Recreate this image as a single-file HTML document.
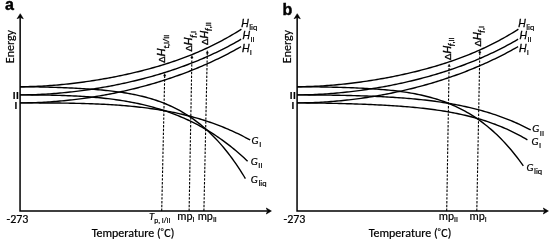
<!DOCTYPE html>
<html><head><meta charset="utf-8"><title>Energy–temperature diagrams</title>
<style>html,body{margin:0;padding:0;background:#fff;}svg{display:block;}</style></head>
<body>
<svg width="552" height="241" viewBox="0 0 552 241">
<rect width="552" height="241" fill="#fff"/>
<style>text{stroke:#000;stroke-width:0.2px;}</style>
<path d="M20.15,17.5 L20.05,211 L267.5,211" fill="none" stroke="#000" stroke-width="1.5"/>
<path d="M20.25,13.7 L23.3,18.7 L20.2,17.4 L17.1,18.7 Z" fill="#000" stroke="#000" stroke-width="0.6" stroke-linejoin="miter"/>
<path d="M271.4,211 L266.3,208.0 L267.6,211 L266.3,214.0 Z" fill="#000" stroke="#000" stroke-width="0.6"/>
<path d="M297.15,17.5 L297.05,211 L544.5,211" fill="none" stroke="#000" stroke-width="1.5"/>
<path d="M297.25,13.7 L300.3,18.7 L297.2,17.4 L294.1,18.7 Z" fill="#000" stroke="#000" stroke-width="0.6" stroke-linejoin="miter"/>
<path d="M548.4,211 L543.3,208.0 L544.6,211 L543.3,214.0 Z" fill="#000" stroke="#000" stroke-width="0.6"/>
<g fill="none" stroke="#000" stroke-width="1.4">
<path d="M20.00,86.70 L22.00,86.69 L24.00,86.68 L26.00,86.65 L28.00,86.61 L30.00,86.57 L32.00,86.51 L34.00,86.44 L36.00,86.37 L38.00,86.28 L40.00,86.18 L42.00,86.08 L44.00,85.97 L46.00,85.84 L48.00,85.71 L50.00,85.57 L52.00,85.42 L54.00,85.27 L56.00,85.10 L58.00,84.93 L60.00,84.74 L62.00,84.56 L64.00,84.36 L66.00,84.15 L68.00,83.94 L70.00,83.72 L72.00,83.49 L74.00,83.25 L76.00,83.01 L78.00,82.76 L80.00,82.50 L82.00,82.23 L84.00,81.96 L86.00,81.68 L88.00,81.39 L90.00,81.09 L92.00,80.79 L94.00,80.48 L96.00,80.16 L98.00,79.84 L100.00,79.50 L102.00,79.16 L104.00,78.81 L106.00,78.46 L108.00,78.10 L110.00,77.73 L112.00,77.35 L114.00,76.96 L116.00,76.57 L118.00,76.17 L120.00,75.76 L122.00,75.34 L124.00,74.91 L126.00,74.48 L128.00,74.04 L130.00,73.59 L132.00,73.13 L134.00,72.66 L136.00,72.18 L138.00,71.70 L140.00,71.20 L142.00,70.70 L144.00,70.18 L146.00,69.66 L148.00,69.13 L150.00,68.59 L152.00,68.03 L154.00,67.47 L156.00,66.90 L158.00,66.31 L160.00,65.72 L162.00,65.11 L164.00,64.49 L166.00,63.87 L168.00,63.22 L170.00,62.57 L172.00,61.91 L174.00,61.23 L176.00,60.54 L178.00,59.84 L180.00,59.12 L182.00,58.40 L184.00,57.65 L186.00,56.90 L188.00,56.13 L190.00,55.34 L192.00,54.54 L194.00,53.73 L196.00,52.90 L198.00,52.05 L200.00,51.19 L202.00,50.31 L204.00,49.42 L206.00,48.50 L208.00,47.57 L210.00,46.63 L212.00,45.66 L214.00,44.68 L216.00,43.68 L218.00,42.65 L220.00,41.61 L222.00,40.55 L224.00,39.47 L226.00,38.37 L228.00,37.25 L230.00,36.10 L232.00,34.93 L234.00,33.75 L236.00,32.53 L238.00,31.30 L240.00,30.04 L241.40,29.15"/>
<path d="M297.00,86.70 L299.00,86.69 L301.00,86.68 L303.00,86.65 L305.00,86.61 L307.00,86.57 L309.00,86.51 L311.00,86.44 L313.00,86.37 L315.00,86.28 L317.00,86.18 L319.00,86.08 L321.00,85.97 L323.00,85.84 L325.00,85.71 L327.00,85.57 L329.00,85.42 L331.00,85.27 L333.00,85.10 L335.00,84.93 L337.00,84.74 L339.00,84.56 L341.00,84.36 L343.00,84.15 L345.00,83.94 L347.00,83.72 L349.00,83.49 L351.00,83.25 L353.00,83.01 L355.00,82.76 L357.00,82.50 L359.00,82.23 L361.00,81.96 L363.00,81.68 L365.00,81.39 L367.00,81.09 L369.00,80.79 L371.00,80.48 L373.00,80.16 L375.00,79.84 L377.00,79.50 L379.00,79.16 L381.00,78.81 L383.00,78.46 L385.00,78.10 L387.00,77.73 L389.00,77.35 L391.00,76.96 L393.00,76.57 L395.00,76.17 L397.00,75.76 L399.00,75.34 L401.00,74.91 L403.00,74.48 L405.00,74.04 L407.00,73.59 L409.00,73.13 L411.00,72.66 L413.00,72.18 L415.00,71.70 L417.00,71.20 L419.00,70.70 L421.00,70.18 L423.00,69.66 L425.00,69.13 L427.00,68.59 L429.00,68.03 L431.00,67.47 L433.00,66.90 L435.00,66.31 L437.00,65.72 L439.00,65.11 L441.00,64.49 L443.00,63.87 L445.00,63.22 L447.00,62.57 L449.00,61.91 L451.00,61.23 L453.00,60.54 L455.00,59.84 L457.00,59.12 L459.00,58.40 L461.00,57.65 L463.00,56.90 L465.00,56.13 L467.00,55.34 L469.00,54.54 L471.00,53.73 L473.00,52.90 L475.00,52.05 L477.00,51.19 L479.00,50.31 L481.00,49.42 L483.00,48.50 L485.00,47.57 L487.00,46.63 L489.00,45.66 L491.00,44.68 L493.00,43.68 L495.00,42.65 L497.00,41.61 L499.00,40.55 L501.00,39.47 L503.00,38.37 L505.00,37.25 L507.00,36.10 L509.00,34.93 L511.00,33.75 L513.00,32.53 L515.00,31.30 L517.00,30.04 L518.40,29.15"/>
<path d="M20.00,94.90 L22.00,94.90 L24.00,94.88 L26.00,94.86 L28.00,94.82 L30.00,94.78 L32.00,94.72 L34.00,94.66 L36.00,94.59 L38.00,94.51 L40.00,94.42 L42.00,94.32 L44.00,94.21 L46.00,94.10 L48.00,93.97 L50.00,93.84 L52.00,93.70 L54.00,93.55 L56.00,93.39 L58.00,93.22 L60.00,93.05 L62.00,92.86 L64.00,92.67 L66.00,92.47 L68.00,92.27 L70.00,92.05 L72.00,91.83 L74.00,91.60 L76.00,91.36 L78.00,91.11 L80.00,90.85 L82.00,90.59 L84.00,90.32 L86.00,90.04 L88.00,89.76 L90.00,89.46 L92.00,89.16 L94.00,88.85 L96.00,88.53 L98.00,88.21 L100.00,87.87 L102.00,87.53 L104.00,87.18 L106.00,86.83 L108.00,86.46 L110.00,86.09 L112.00,85.71 L114.00,85.32 L116.00,84.92 L118.00,84.52 L120.00,84.10 L122.00,83.68 L124.00,83.25 L126.00,82.81 L128.00,82.36 L130.00,81.91 L132.00,81.44 L134.00,80.97 L136.00,80.49 L138.00,80.00 L140.00,79.50 L142.00,78.99 L144.00,78.47 L146.00,77.94 L148.00,77.40 L150.00,76.86 L152.00,76.30 L154.00,75.74 L156.00,75.16 L158.00,74.57 L160.00,73.98 L162.00,73.37 L164.00,72.76 L166.00,72.13 L168.00,71.49 L170.00,70.84 L172.00,70.18 L174.00,69.51 L176.00,68.83 L178.00,68.14 L180.00,67.43 L182.00,66.71 L184.00,65.98 L186.00,65.24 L188.00,64.49 L190.00,63.72 L192.00,62.95 L194.00,62.15 L196.00,61.35 L198.00,60.53 L200.00,59.70 L202.00,58.85 L204.00,57.99 L206.00,57.12 L208.00,56.23 L210.00,55.33 L212.00,54.41 L214.00,53.48 L216.00,52.53 L218.00,51.57 L220.00,50.59 L222.00,49.59 L224.00,48.58 L226.00,47.55 L228.00,46.51 L230.00,45.45 L232.00,44.37 L234.00,43.27 L236.00,42.16 L238.00,41.02 L240.00,39.87 L241.10,39.23"/>
<path d="M297.00,94.90 L299.00,94.90 L301.00,94.88 L303.00,94.86 L305.00,94.82 L307.00,94.78 L309.00,94.72 L311.00,94.66 L313.00,94.59 L315.00,94.51 L317.00,94.42 L319.00,94.32 L321.00,94.21 L323.00,94.10 L325.00,93.97 L327.00,93.84 L329.00,93.70 L331.00,93.55 L333.00,93.39 L335.00,93.22 L337.00,93.05 L339.00,92.86 L341.00,92.67 L343.00,92.47 L345.00,92.27 L347.00,92.05 L349.00,91.83 L351.00,91.60 L353.00,91.36 L355.00,91.11 L357.00,90.85 L359.00,90.59 L361.00,90.32 L363.00,90.04 L365.00,89.76 L367.00,89.46 L369.00,89.16 L371.00,88.85 L373.00,88.53 L375.00,88.21 L377.00,87.87 L379.00,87.53 L381.00,87.18 L383.00,86.83 L385.00,86.46 L387.00,86.09 L389.00,85.71 L391.00,85.32 L393.00,84.92 L395.00,84.52 L397.00,84.10 L399.00,83.68 L401.00,83.25 L403.00,82.81 L405.00,82.36 L407.00,81.91 L409.00,81.44 L411.00,80.97 L413.00,80.49 L415.00,80.00 L417.00,79.50 L419.00,78.99 L421.00,78.47 L423.00,77.94 L425.00,77.40 L427.00,76.86 L429.00,76.30 L431.00,75.74 L433.00,75.16 L435.00,74.57 L437.00,73.98 L439.00,73.37 L441.00,72.76 L443.00,72.13 L445.00,71.49 L447.00,70.84 L449.00,70.18 L451.00,69.51 L453.00,68.83 L455.00,68.14 L457.00,67.43 L459.00,66.71 L461.00,65.98 L463.00,65.24 L465.00,64.49 L467.00,63.72 L469.00,62.95 L471.00,62.15 L473.00,61.35 L475.00,60.53 L477.00,59.70 L479.00,58.85 L481.00,57.99 L483.00,57.12 L485.00,56.23 L487.00,55.33 L489.00,54.41 L491.00,53.48 L493.00,52.53 L495.00,51.57 L497.00,50.59 L499.00,49.59 L501.00,48.58 L503.00,47.55 L505.00,46.51 L507.00,45.45 L509.00,44.37 L511.00,43.27 L513.00,42.16 L515.00,41.02 L517.00,39.87 L518.10,39.23"/>
<path d="M20.00,102.90 L22.00,102.90 L24.00,102.88 L26.00,102.86 L28.00,102.82 L30.00,102.78 L32.00,102.73 L34.00,102.67 L36.00,102.60 L38.00,102.52 L40.00,102.43 L42.00,102.34 L44.00,102.23 L46.00,102.12 L48.00,101.99 L50.00,101.86 L52.00,101.72 L54.00,101.57 L56.00,101.41 L58.00,101.25 L60.00,101.07 L62.00,100.89 L64.00,100.70 L66.00,100.50 L68.00,100.29 L70.00,100.07 L72.00,99.85 L74.00,99.61 L76.00,99.37 L78.00,99.12 L80.00,98.86 L82.00,98.60 L84.00,98.32 L86.00,98.04 L88.00,97.75 L90.00,97.45 L92.00,97.14 L94.00,96.82 L96.00,96.50 L98.00,96.16 L100.00,95.82 L102.00,95.47 L104.00,95.11 L106.00,94.75 L108.00,94.37 L110.00,93.99 L112.00,93.59 L114.00,93.19 L116.00,92.78 L118.00,92.37 L120.00,91.94 L122.00,91.50 L124.00,91.06 L126.00,90.61 L128.00,90.14 L130.00,89.67 L132.00,89.19 L134.00,88.70 L136.00,88.21 L138.00,87.70 L140.00,87.18 L142.00,86.66 L144.00,86.12 L146.00,85.58 L148.00,85.02 L150.00,84.46 L152.00,83.88 L154.00,83.30 L156.00,82.71 L158.00,82.10 L160.00,81.49 L162.00,80.87 L164.00,80.23 L166.00,79.59 L168.00,78.93 L170.00,78.27 L172.00,77.59 L174.00,76.90 L176.00,76.21 L178.00,75.50 L180.00,74.78 L182.00,74.05 L184.00,73.30 L186.00,72.55 L188.00,71.78 L190.00,71.00 L192.00,70.21 L194.00,69.41 L196.00,68.59 L198.00,67.77 L200.00,66.93 L202.00,66.07 L204.00,65.21 L206.00,64.33 L208.00,63.44 L210.00,62.53 L212.00,61.62 L214.00,60.68 L216.00,59.74 L218.00,58.78 L220.00,57.80 L222.00,56.81 L224.00,55.81 L226.00,54.79 L228.00,53.76 L230.00,52.71 L232.00,51.65 L234.00,50.57 L236.00,49.48 L238.00,48.37 L240.00,47.24 L241.10,46.61"/>
<path d="M297.00,102.90 L299.00,102.90 L301.00,102.88 L303.00,102.86 L305.00,102.82 L307.00,102.78 L309.00,102.73 L311.00,102.67 L313.00,102.60 L315.00,102.52 L317.00,102.43 L319.00,102.34 L321.00,102.23 L323.00,102.12 L325.00,101.99 L327.00,101.86 L329.00,101.72 L331.00,101.57 L333.00,101.41 L335.00,101.25 L337.00,101.07 L339.00,100.89 L341.00,100.70 L343.00,100.50 L345.00,100.29 L347.00,100.07 L349.00,99.85 L351.00,99.61 L353.00,99.37 L355.00,99.12 L357.00,98.86 L359.00,98.60 L361.00,98.32 L363.00,98.04 L365.00,97.75 L367.00,97.45 L369.00,97.14 L371.00,96.82 L373.00,96.50 L375.00,96.16 L377.00,95.82 L379.00,95.47 L381.00,95.11 L383.00,94.75 L385.00,94.37 L387.00,93.99 L389.00,93.59 L391.00,93.19 L393.00,92.78 L395.00,92.37 L397.00,91.94 L399.00,91.50 L401.00,91.06 L403.00,90.61 L405.00,90.14 L407.00,89.67 L409.00,89.19 L411.00,88.70 L413.00,88.21 L415.00,87.70 L417.00,87.18 L419.00,86.66 L421.00,86.12 L423.00,85.58 L425.00,85.02 L427.00,84.46 L429.00,83.88 L431.00,83.30 L433.00,82.71 L435.00,82.10 L437.00,81.49 L439.00,80.87 L441.00,80.23 L443.00,79.59 L445.00,78.93 L447.00,78.27 L449.00,77.59 L451.00,76.90 L453.00,76.21 L455.00,75.50 L457.00,74.78 L459.00,74.05 L461.00,73.30 L463.00,72.55 L465.00,71.78 L467.00,71.00 L469.00,70.21 L471.00,69.41 L473.00,68.59 L475.00,67.77 L477.00,66.93 L479.00,66.07 L481.00,65.21 L483.00,64.33 L485.00,63.44 L487.00,62.53 L489.00,61.62 L491.00,60.68 L493.00,59.74 L495.00,58.78 L497.00,57.80 L499.00,56.81 L501.00,55.81 L503.00,54.79 L505.00,53.76 L507.00,52.71 L509.00,51.65 L511.00,50.57 L513.00,49.48 L515.00,48.37 L517.00,47.24 L518.10,46.61"/>
<path d="M20.00,86.70 L22.00,86.70 L24.00,86.71 L26.00,86.73 L28.00,86.74 L30.00,86.77 L32.00,86.79 L34.00,86.83 L36.00,86.86 L38.00,86.90 L40.00,86.95 L42.00,86.99 L44.00,87.04 L46.00,87.10 L48.00,87.15 L50.00,87.21 L52.00,87.27 L54.00,87.34 L56.00,87.41 L58.00,87.48 L60.00,87.55 L62.00,87.63 L64.00,87.71 L66.00,87.79 L68.00,87.88 L70.00,87.97 L72.00,88.06 L74.00,88.16 L76.00,88.26 L78.00,88.37 L80.00,88.48 L82.00,88.59 L84.00,88.71 L86.00,88.84 L88.00,88.97 L90.00,89.10 L92.00,89.24 L94.00,89.39 L96.00,89.55 L98.00,89.71 L100.00,89.88 L102.00,90.06 L104.00,90.25 L106.00,90.45 L108.00,90.66 L110.00,90.87 L112.00,91.10 L114.00,91.34 L116.00,91.60 L118.00,91.86 L120.00,92.14 L122.00,92.43 L124.00,92.74 L126.00,93.06 L128.00,93.40 L130.00,93.76 L132.00,94.13 L134.00,94.52 L136.00,94.93 L138.00,95.36 L140.00,95.81 L142.00,96.29 L144.00,96.78 L146.00,97.30 L148.00,97.85 L150.00,98.42 L152.00,99.02 L154.00,99.64 L156.00,100.29 L158.00,100.98 L160.00,101.69 L162.00,102.43 L164.00,103.21 L166.00,104.02 L168.00,104.87 L170.00,105.75 L172.00,106.67 L174.00,107.63 L176.00,108.62 L178.00,109.66 L180.00,110.74 L182.00,111.87 L184.00,113.04 L186.00,114.25 L188.00,115.52 L190.00,116.83 L192.00,118.19 L194.00,119.60 L196.00,121.07 L198.00,122.59 L200.00,124.17 L202.00,125.80 L204.00,127.50 L206.00,129.25 L208.00,131.07 L210.00,132.95 L212.00,134.89 L214.00,136.90 L216.00,138.98 L218.00,141.13 L220.00,143.35 L222.00,145.65 L224.00,148.02 L226.00,150.47 L228.00,152.99 L230.00,155.60 L232.00,158.29 L234.00,161.06 L236.00,163.92 L238.00,166.86 L240.00,169.90 L242.00,173.03 L244.00,176.25 L245.40,178.56"/>
<path d="M20.00,94.90 L22.00,94.90 L24.00,94.90 L26.00,94.91 L28.00,94.91 L30.00,94.92 L32.00,94.93 L34.00,94.95 L36.00,94.96 L38.00,94.98 L40.00,95.00 L42.00,95.03 L44.00,95.05 L46.00,95.08 L48.00,95.12 L50.00,95.15 L52.00,95.19 L54.00,95.24 L56.00,95.29 L58.00,95.34 L60.00,95.40 L62.00,95.46 L64.00,95.53 L66.00,95.60 L68.00,95.68 L70.00,95.76 L72.00,95.85 L74.00,95.94 L76.00,96.04 L78.00,96.15 L80.00,96.26 L82.00,96.38 L84.00,96.51 L86.00,96.64 L88.00,96.78 L90.00,96.93 L92.00,97.09 L94.00,97.26 L96.00,97.43 L98.00,97.61 L100.00,97.81 L102.00,98.01 L104.00,98.22 L106.00,98.44 L108.00,98.67 L110.00,98.91 L112.00,99.16 L114.00,99.42 L116.00,99.70 L118.00,99.98 L120.00,100.28 L122.00,100.59 L124.00,100.92 L126.00,101.25 L128.00,101.60 L130.00,101.96 L132.00,102.34 L134.00,102.73 L136.00,103.13 L138.00,103.55 L140.00,103.99 L142.00,104.44 L144.00,104.91 L146.00,105.39 L148.00,105.89 L150.00,106.41 L152.00,106.94 L154.00,107.49 L156.00,108.06 L158.00,108.65 L160.00,109.26 L162.00,109.89 L164.00,110.54 L166.00,111.20 L168.00,111.89 L170.00,112.60 L172.00,113.33 L174.00,114.09 L176.00,114.86 L178.00,115.66 L180.00,116.48 L182.00,117.32 L184.00,118.19 L186.00,119.09 L188.00,120.01 L190.00,120.95 L192.00,121.92 L194.00,122.91 L196.00,123.94 L198.00,124.99 L200.00,126.07 L202.00,127.17 L204.00,128.31 L206.00,129.47 L208.00,130.66 L210.00,131.89 L212.00,133.14 L214.00,134.43 L216.00,135.75 L218.00,137.10 L220.00,138.48 L222.00,139.90 L224.00,141.35 L226.00,142.83 L228.00,144.35 L230.00,145.90 L232.00,147.49 L234.00,149.12 L236.00,150.78 L238.00,152.49 L240.00,154.23 L242.00,156.00 L244.00,157.82 L246.00,159.68 L247.60,161.20"/>
<path d="M20.00,102.90 L22.00,102.90 L24.00,102.90 L26.00,102.90 L28.00,102.90 L30.00,102.91 L32.00,102.91 L34.00,102.91 L36.00,102.92 L38.00,102.92 L40.00,102.93 L42.00,102.93 L44.00,102.94 L46.00,102.95 L48.00,102.96 L50.00,102.98 L52.00,102.99 L54.00,103.01 L56.00,103.02 L58.00,103.04 L60.00,103.07 L62.00,103.09 L64.00,103.12 L66.00,103.14 L68.00,103.17 L70.00,103.21 L72.00,103.24 L74.00,103.28 L76.00,103.33 L78.00,103.37 L80.00,103.42 L82.00,103.47 L84.00,103.53 L86.00,103.59 L88.00,103.65 L90.00,103.72 L92.00,103.79 L94.00,103.86 L96.00,103.94 L98.00,104.03 L100.00,104.12 L102.00,104.21 L104.00,104.31 L106.00,104.42 L108.00,104.53 L110.00,104.64 L112.00,104.76 L114.00,104.89 L116.00,105.03 L118.00,105.17 L120.00,105.31 L122.00,105.47 L124.00,105.63 L126.00,105.80 L128.00,105.97 L130.00,106.15 L132.00,106.34 L134.00,106.54 L136.00,106.75 L138.00,106.96 L140.00,107.19 L142.00,107.42 L144.00,107.66 L146.00,107.91 L148.00,108.17 L150.00,108.44 L152.00,108.72 L154.00,109.01 L156.00,109.31 L158.00,109.62 L160.00,109.94 L162.00,110.27 L164.00,110.62 L166.00,110.97 L168.00,111.34 L170.00,111.72 L172.00,112.11 L174.00,112.52 L176.00,112.93 L178.00,113.36 L180.00,113.81 L182.00,114.26 L184.00,114.73 L186.00,115.22 L188.00,115.72 L190.00,116.23 L192.00,116.76 L194.00,117.31 L196.00,117.87 L198.00,118.44 L200.00,119.03 L202.00,119.64 L204.00,120.27 L206.00,120.91 L208.00,121.57 L210.00,122.25 L212.00,122.94 L214.00,123.65 L216.00,124.38 L218.00,125.13 L220.00,125.90 L222.00,126.69 L224.00,127.50 L226.00,128.33 L228.00,129.18 L230.00,130.05 L232.00,130.94 L234.00,131.85 L236.00,132.79 L238.00,133.74 L240.00,134.72 L242.00,135.72 L244.00,136.75 L246.00,137.79 L248.00,138.87 L250.00,139.96 L250.10,140.02"/>
<path d="M297.00,86.70 L299.00,86.70 L301.00,86.71 L303.00,86.72 L305.00,86.73 L307.00,86.75 L309.00,86.76 L311.00,86.79 L313.00,86.81 L315.00,86.84 L317.00,86.87 L319.00,86.90 L321.00,86.93 L323.00,86.97 L325.00,87.01 L327.00,87.05 L329.00,87.09 L331.00,87.14 L333.00,87.19 L335.00,87.24 L337.00,87.29 L339.00,87.35 L341.00,87.41 L343.00,87.47 L345.00,87.53 L347.00,87.60 L349.00,87.67 L351.00,87.74 L353.00,87.82 L355.00,87.90 L357.00,87.99 L359.00,88.08 L361.00,88.17 L363.00,88.27 L365.00,88.37 L367.00,88.48 L369.00,88.60 L371.00,88.72 L373.00,88.85 L375.00,88.98 L377.00,89.12 L379.00,89.27 L381.00,89.43 L383.00,89.60 L385.00,89.77 L387.00,89.95 L389.00,90.15 L391.00,90.35 L393.00,90.57 L395.00,90.79 L397.00,91.03 L399.00,91.28 L401.00,91.54 L403.00,91.82 L405.00,92.11 L407.00,92.42 L409.00,92.74 L411.00,93.08 L413.00,93.43 L415.00,93.80 L417.00,94.20 L419.00,94.60 L421.00,95.03 L423.00,95.48 L425.00,95.95 L427.00,96.45 L429.00,96.96 L431.00,97.50 L433.00,98.07 L435.00,98.66 L437.00,99.27 L439.00,99.91 L441.00,100.58 L443.00,101.28 L445.00,102.01 L447.00,102.77 L449.00,103.56 L451.00,104.39 L453.00,105.25 L455.00,106.14 L457.00,107.07 L459.00,108.03 L461.00,109.03 L463.00,110.08 L465.00,111.16 L467.00,112.28 L469.00,113.45 L471.00,114.66 L473.00,115.91 L475.00,117.21 L477.00,118.55 L479.00,119.95 L481.00,121.39 L483.00,122.88 L485.00,124.43 L487.00,126.03 L489.00,127.68 L491.00,129.39 L493.00,131.15 L495.00,132.97 L497.00,134.86 L499.00,136.80 L501.00,138.81 L503.00,140.88 L505.00,143.01 L507.00,145.21 L509.00,147.48 L511.00,149.82 L513.00,152.23 L515.00,154.72 L517.00,157.27 L519.00,159.90 L521.00,162.61 L523.00,165.40 L523.30,165.83"/>
<path d="M297.00,94.90 L299.00,94.90 L301.00,94.90 L303.00,94.91 L305.00,94.91 L307.00,94.92 L309.00,94.93 L311.00,94.94 L313.00,94.96 L315.00,94.97 L317.00,94.99 L319.00,95.01 L321.00,95.03 L323.00,95.05 L325.00,95.07 L327.00,95.10 L329.00,95.13 L331.00,95.16 L333.00,95.19 L335.00,95.22 L337.00,95.26 L339.00,95.29 L341.00,95.33 L343.00,95.37 L345.00,95.42 L347.00,95.46 L349.00,95.51 L351.00,95.56 L353.00,95.61 L355.00,95.67 L357.00,95.73 L359.00,95.79 L361.00,95.85 L363.00,95.92 L365.00,95.99 L367.00,96.06 L369.00,96.13 L371.00,96.21 L373.00,96.29 L375.00,96.38 L377.00,96.47 L379.00,96.56 L381.00,96.66 L383.00,96.76 L385.00,96.86 L387.00,96.97 L389.00,97.08 L391.00,97.20 L393.00,97.32 L395.00,97.45 L397.00,97.58 L399.00,97.72 L401.00,97.87 L403.00,98.01 L405.00,98.17 L407.00,98.33 L409.00,98.50 L411.00,98.67 L413.00,98.85 L415.00,99.03 L417.00,99.23 L419.00,99.43 L421.00,99.63 L423.00,99.85 L425.00,100.07 L427.00,100.30 L429.00,100.54 L431.00,100.79 L433.00,101.04 L435.00,101.31 L437.00,101.58 L439.00,101.86 L441.00,102.16 L443.00,102.46 L445.00,102.77 L447.00,103.09 L449.00,103.43 L451.00,103.77 L453.00,104.13 L455.00,104.49 L457.00,104.87 L459.00,105.26 L461.00,105.67 L463.00,106.08 L465.00,106.51 L467.00,106.95 L469.00,107.41 L471.00,107.88 L473.00,108.36 L475.00,108.86 L477.00,109.37 L479.00,109.90 L481.00,110.44 L483.00,111.00 L485.00,111.58 L487.00,112.17 L489.00,112.78 L491.00,113.40 L493.00,114.05 L495.00,114.71 L497.00,115.39 L499.00,116.08 L501.00,116.80 L503.00,117.54 L505.00,118.29 L507.00,119.07 L509.00,119.86 L511.00,120.68 L513.00,121.52 L515.00,122.38 L517.00,123.26 L519.00,124.17 L521.00,125.10 L523.00,126.05 L525.00,127.02 L527.00,128.02 L529.00,129.04 L530.70,129.93"/>
<path d="M297.00,102.90 L299.00,102.90 L301.00,102.91 L303.00,102.91 L305.00,102.92 L307.00,102.94 L309.00,102.95 L311.00,102.97 L313.00,102.99 L315.00,103.02 L317.00,103.04 L319.00,103.07 L321.00,103.10 L323.00,103.14 L325.00,103.17 L327.00,103.21 L329.00,103.25 L331.00,103.29 L333.00,103.33 L335.00,103.38 L337.00,103.42 L339.00,103.47 L341.00,103.52 L343.00,103.58 L345.00,103.63 L347.00,103.69 L349.00,103.75 L351.00,103.81 L353.00,103.87 L355.00,103.94 L357.00,104.01 L359.00,104.08 L361.00,104.15 L363.00,104.22 L365.00,104.30 L367.00,104.38 L369.00,104.47 L371.00,104.55 L373.00,104.64 L375.00,104.73 L377.00,104.83 L379.00,104.93 L381.00,105.03 L383.00,105.14 L385.00,105.25 L387.00,105.36 L389.00,105.48 L391.00,105.60 L393.00,105.73 L395.00,105.86 L397.00,105.99 L399.00,106.13 L401.00,106.28 L403.00,106.43 L405.00,106.59 L407.00,106.75 L409.00,106.92 L411.00,107.10 L413.00,107.28 L415.00,107.47 L417.00,107.66 L419.00,107.87 L421.00,108.08 L423.00,108.30 L425.00,108.52 L427.00,108.76 L429.00,109.00 L431.00,109.26 L433.00,109.52 L435.00,109.79 L437.00,110.08 L439.00,110.37 L441.00,110.67 L443.00,110.99 L445.00,111.31 L447.00,111.65 L449.00,112.00 L451.00,112.36 L453.00,112.73 L455.00,113.12 L457.00,113.52 L459.00,113.94 L461.00,114.37 L463.00,114.81 L465.00,115.27 L467.00,115.75 L469.00,116.24 L471.00,116.74 L473.00,117.27 L475.00,117.81 L477.00,118.37 L479.00,118.95 L481.00,119.54 L483.00,120.16 L485.00,120.79 L487.00,121.45 L489.00,122.13 L491.00,122.82 L493.00,123.54 L495.00,124.28 L497.00,125.05 L499.00,125.83 L501.00,126.64 L503.00,127.48 L505.00,128.34 L507.00,129.22 L509.00,130.13 L511.00,131.07 L513.00,132.03 L515.00,133.02 L517.00,134.04 L519.00,135.09 L521.00,136.17 L523.00,137.28 L525.00,138.41 L527.00,139.58 L527.40,139.82"/>
</g>
<g stroke="#000" stroke-width="1.1" stroke-dasharray="2.4,1.4" fill="none">
<path d="M161.7,211 L164.7,75.80"/>
<path d="M189.1,211 L191.9,57.60"/>
<path d="M203.9,211 L207.3,52.90"/>
<path d="M446.7,211 L449.1,66.20"/>
<path d="M476.8,211 L479.8,52.60"/>
</g>
<path d="M163.45,76.10 L164.70,73.50 L165.95,76.10 Z" fill="#000" stroke="#000" stroke-width="0.3"/>
<path d="M190.65,57.90 L191.90,55.30 L193.15,57.90 Z" fill="#000" stroke="#000" stroke-width="0.3"/>
<path d="M206.05,53.20 L207.30,50.60 L208.55,53.20 Z" fill="#000" stroke="#000" stroke-width="0.3"/>
<path d="M447.85,66.50 L449.10,63.90 L450.35,66.50 Z" fill="#000" stroke="#000" stroke-width="0.3"/>
<path d="M478.55,52.90 L479.80,50.30 L481.05,52.90 Z" fill="#000" stroke="#000" stroke-width="0.3"/>
<text x="5" y="10.3" font-family="'Liberation Sans', Arial, sans-serif" font-weight="bold" font-size="16" style="stroke-width:0.45px">a</text>
<text x="282.6" y="14.6" font-family="'Liberation Sans', Arial, sans-serif" font-weight="bold" font-size="16" style="stroke-width:0.45px">b</text>
<text transform="translate(14.3,63.2) rotate(-90)" font-family="Carlito, 'Liberation Sans', sans-serif" font-size="12">Energy</text>
<text x="12.7" y="98.7" font-family="Carlito, 'Liberation Sans', sans-serif" font-weight="bold" font-size="10.5" letter-spacing="0.5">II</text>
<text x="14.6" y="108.9" font-family="Carlito, 'Liberation Sans', sans-serif" font-weight="bold" font-size="10.5">I</text>
<text x="6.5" y="223" font-family="Carlito, 'Liberation Sans', sans-serif" font-size="12">-273</text>
<text x="91.7" y="236.5" font-family="Carlito, 'Liberation Sans', sans-serif" font-size="12">Temperature (<tspan font-size="8.5" dx="0.3" dy="-2.4">°</tspan><tspan dx="0.6" dy="2.4">C</tspan>)</text>
<text x="241.3" y="26.6" font-family="Carlito, 'Liberation Sans', sans-serif" font-size="11"><tspan font-family="'Liberation Sans', Arial, sans-serif" font-size="10.4" font-style="italic" style="stroke-width:0.3px">H</tspan><tspan font-size="8.3" dx="0.4" dy="2.9">liq</tspan></text>
<text x="242.6" y="39.0" font-family="Carlito, 'Liberation Sans', sans-serif" font-size="11"><tspan font-family="'Liberation Sans', Arial, sans-serif" font-size="10.4" font-style="italic" style="stroke-width:0.3px">H</tspan><tspan font-size="8.3" dx="0.4" dy="2.9">II</tspan></text>
<text x="241.9" y="52.1" font-family="Carlito, 'Liberation Sans', sans-serif" font-size="11"><tspan font-family="'Liberation Sans', Arial, sans-serif" font-size="10.4" font-style="italic" style="stroke-width:0.3px">H</tspan><tspan font-size="8.3" dx="0.4" dy="2.9">I</tspan></text>
<text transform="translate(291.3,63.2) rotate(-90)" font-family="Carlito, 'Liberation Sans', sans-serif" font-size="12">Energy</text>
<text x="289.7" y="98.7" font-family="Carlito, 'Liberation Sans', sans-serif" font-weight="bold" font-size="10.5" letter-spacing="0.5">II</text>
<text x="291.6" y="108.9" font-family="Carlito, 'Liberation Sans', sans-serif" font-weight="bold" font-size="10.5">I</text>
<text x="283.5" y="223" font-family="Carlito, 'Liberation Sans', sans-serif" font-size="12">-273</text>
<text x="368.7" y="236.5" font-family="Carlito, 'Liberation Sans', sans-serif" font-size="12">Temperature (<tspan font-size="8.5" dx="0.3" dy="-2.4">°</tspan><tspan dx="0.6" dy="2.4">C</tspan>)</text>
<text x="518.3" y="26.6" font-family="Carlito, 'Liberation Sans', sans-serif" font-size="11"><tspan font-family="'Liberation Sans', Arial, sans-serif" font-size="10.4" font-style="italic" style="stroke-width:0.3px">H</tspan><tspan font-size="8.3" dx="0.4" dy="2.9">liq</tspan></text>
<text x="519.6" y="39.0" font-family="Carlito, 'Liberation Sans', sans-serif" font-size="11"><tspan font-family="'Liberation Sans', Arial, sans-serif" font-size="10.4" font-style="italic" style="stroke-width:0.3px">H</tspan><tspan font-size="8.3" dx="0.4" dy="2.9">II</tspan></text>
<text x="518.9" y="52.1" font-family="Carlito, 'Liberation Sans', sans-serif" font-size="11"><tspan font-family="'Liberation Sans', Arial, sans-serif" font-size="10.4" font-style="italic" style="stroke-width:0.3px">H</tspan><tspan font-size="8.3" dx="0.4" dy="2.9">I</tspan></text>
<text x="251.6" y="143.6" font-family="Carlito, 'Liberation Sans', sans-serif" font-size="11"><tspan font-style="italic">G</tspan><tspan font-size="8.3" dx="0.7" dy="3.2">I</tspan></text>
<text x="250.7" y="164.8" font-family="Carlito, 'Liberation Sans', sans-serif" font-size="11"><tspan font-style="italic">G</tspan><tspan font-size="8.3" dx="0.7" dy="3.2">II</tspan></text>
<text x="250.79999999999998" y="183.0" font-family="Carlito, 'Liberation Sans', sans-serif" font-size="11"><tspan font-style="italic">G</tspan><tspan font-size="8.3" dx="0.7" dy="3.2">liq</tspan></text>
<text x="532.2" y="132.4" font-family="Carlito, 'Liberation Sans', sans-serif" font-size="11"><tspan font-style="italic">G</tspan><tspan font-size="8.3" dx="0.7" dy="3.2">II</tspan></text>
<text x="531.4" y="145.2" font-family="Carlito, 'Liberation Sans', sans-serif" font-size="11"><tspan font-style="italic">G</tspan><tspan font-size="8.3" dx="0.7" dy="3.2">I</tspan></text>
<text x="526.4" y="170.7" font-family="Carlito, 'Liberation Sans', sans-serif" font-size="11"><tspan font-style="italic">G</tspan><tspan font-size="8.3" dx="0.7" dy="3.2">liq</tspan></text>
<text transform="translate(165.4,62.7) rotate(-90)" font-family="Carlito, 'Liberation Sans', sans-serif" font-size="11" style="stroke-width:0.35px"><tspan font-family="'Liberation Sans', Arial, sans-serif" font-size="9.6">Δ<tspan font-style="italic" font-size="10.6">H</tspan></tspan><tspan font-size="8" dy="3.4"><tspan font-style="italic">t</tspan>,I/II</tspan></text>
<text transform="translate(192.2,51.6) rotate(-90)" font-family="Carlito, 'Liberation Sans', sans-serif" font-size="11" style="stroke-width:0.35px"><tspan font-family="'Liberation Sans', Arial, sans-serif" font-size="9.6">Δ<tspan font-style="italic" font-size="10.6">H</tspan></tspan><tspan font-size="8" dy="3.4"><tspan font-style="italic">f</tspan>,I</tspan></text>
<text transform="translate(207.6,44.9) rotate(-90)" font-family="Carlito, 'Liberation Sans', sans-serif" font-size="11" style="stroke-width:0.35px"><tspan font-family="'Liberation Sans', Arial, sans-serif" font-size="9.6">Δ<tspan font-style="italic" font-size="10.6">H</tspan></tspan><tspan font-size="8" dy="3.4"><tspan font-style="italic">f</tspan>,II</tspan></text>
<text transform="translate(450.8,60.0) rotate(-90)" font-family="Carlito, 'Liberation Sans', sans-serif" font-size="11" style="stroke-width:0.35px"><tspan font-family="'Liberation Sans', Arial, sans-serif" font-size="9.6">Δ<tspan font-style="italic" font-size="10.6">H</tspan></tspan><tspan font-size="8" dy="3.4"><tspan font-style="italic">f</tspan>,II</tspan></text>
<text transform="translate(481.0,46.5) rotate(-90)" font-family="Carlito, 'Liberation Sans', sans-serif" font-size="11" style="stroke-width:0.35px"><tspan font-family="'Liberation Sans', Arial, sans-serif" font-size="9.6">Δ<tspan font-style="italic" font-size="10.6">H</tspan></tspan><tspan font-size="8" dy="3.4"><tspan font-style="italic">f</tspan>,I</tspan></text>
<text x="149" y="219.7" font-family="Carlito, 'Liberation Sans', sans-serif" font-size="10.8"><tspan font-style="italic">T</tspan><tspan font-size="7.5" dy="2.8">p, I/II</tspan></text>
<text x="177.3" y="219.8" font-family="Carlito, 'Liberation Sans', sans-serif" font-size="11.5">mp<tspan font-size="7.5" dy="2.3">I</tspan></text>
<text x="197.7" y="219.8" font-family="Carlito, 'Liberation Sans', sans-serif" font-size="11.5">mp<tspan font-size="7.5" dy="2.3">II</tspan></text>
<text x="438.8" y="219.8" font-family="Carlito, 'Liberation Sans', sans-serif" font-size="11.5">mp<tspan font-size="7.5" dy="2.3">II</tspan></text>
<text x="469.5" y="219.8" font-family="Carlito, 'Liberation Sans', sans-serif" font-size="11.5">mp<tspan font-size="7.5" dy="2.3">I</tspan></text>
</svg>
</body></html>
